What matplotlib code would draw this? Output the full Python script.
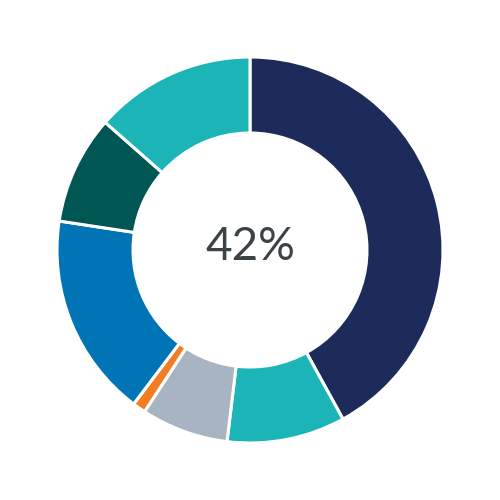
import matplotlib.pyplot as plt

# shares, clockwise from 12 o'clock
labels = ['Navy', 'Teal A', 'Gray', 'Orange', 'Blue', 'Dark green', 'Teal B']
shares = [42.0, 9.9, 7.3, 1.1, 17.1, 9.1, 13.5]
colors = ['#1c2b5a', '#1bb5b7', '#a9b4c2', '#f27d22', '#0074b4', '#005652', '#1bb5b7']
center_label = '42%'

fig = plt.figure(figsize=(5, 5), dpi=100)
ax = fig.add_axes([0, 0, 1, 1])

ax.pie(shares, colors=colors, startangle=90, counterclock=False,
       radius=0.772,
       wedgeprops=dict(width=0.772 - 0.468, edgecolor='white', linewidth=2.2))

ax.text(0, 0.01, center_label, ha='center', va='center', fontsize=33,
        family='Lato', fontweight='normal', color='#3b4346')

ax.set_xlim(-1, 1)
ax.set_ylim(-1, 1)
ax.set_aspect('equal')
ax.axis('off')

fig.savefig('out.png', dpi=100, facecolor='white')
